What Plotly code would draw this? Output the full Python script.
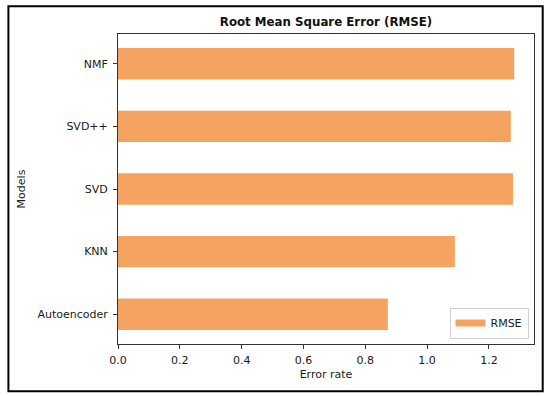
import plotly.graph_objects as go

models = ["Autoencoder", "KNN", "SVD", "SVD++", "NMF"]
rmse = [0.873, 1.090, 1.278, 1.271, 1.282]
x_ticks = [0.0, 0.2, 0.4, 0.6, 0.8, 1.0, 1.2]
x_tick_labels = ["0.0", "0.2", "0.4", "0.6", "0.8", "1.0", "1.2"]

BAR_COLOR = "#F4A460"
L, R, T, B = 118, 16, 34, 52
W, H = 550, 396
pw, ph = W - L - R, H - T - B

fig = go.Figure()
fig.add_trace(go.Bar(
    y=models, x=rmse, orientation="h", name="RMSE",
    marker=dict(color=BAR_COLOR, line=dict(width=0)),
    width=0.5, showlegend=False,
))
# legend entry drawn as a wide swatch (matplotlib style)
fig.add_trace(go.Scatter(
    x=[None], y=[None], mode="lines", name="RMSE",
    line=dict(color=BAR_COLOR, width=7), showlegend=True,
))

fig.update_layout(
    width=W, height=H,
    margin=dict(l=L, r=R, t=T, b=B, pad=0),
    paper_bgcolor="white", plot_bgcolor="white",
    font=dict(family="DejaVu Sans", size=11, color="#1a1a1a"),
    title=dict(text="<b>Root Mean Square Error (RMSE)</b>", x=(L + pw / 2) / W, xanchor="center",
               y=1 - 22 / H, yanchor="middle", font=dict(size=11.8, color="#111")),
    showlegend=True,
    legend=dict(x=(528.5 - L) / pw, xanchor="right", y=(344 - 338.5) / ph, yanchor="bottom",
                bgcolor="white", bordercolor="#d0d0d0", borderwidth=1,
                itemwidth=30, tracegroupgap=0,
                font=dict(size=11, color="#1a1a1a")),
)
fig.update_xaxes(
    range=[0, 1.346], tickvals=x_ticks, ticktext=x_tick_labels,
    showgrid=False, zeroline=False, showline=True, linecolor="#333", linewidth=1, mirror=True,
    ticks="outside", ticklen=4, tickcolor="#333", ticklabelstandoff=2,
    title=dict(text="Error rate", standoff=4, font=dict(size=11)),
)
fig.update_yaxes(
    categoryorder="array", categoryarray=models, range=[-0.475, 4.475],
    showgrid=False, zeroline=False, showline=True, linecolor="#333", linewidth=1, mirror=True,
    ticks="outside", ticklen=4, tickcolor="#333", ticklabelstandoff=3,
    title=dict(text="Models", standoff=9, font=dict(size=11)),
)

# outer frame around the figure
fig.add_shape(type="rect", xref="paper", yref="paper",
              x0=(8.4 - L) / pw, x1=(542.7 - L) / pw,
              y0=(344 - 391.3) / ph, y1=(344 - 6.3) / ph,
              line=dict(color="black", width=2), fillcolor="rgba(0,0,0,0)", layer="above")

fig.write_html("out.html", config={"displayModeBar": False},
               post_script="document.body.style.margin='0';document.body.style.overflow='hidden';")
